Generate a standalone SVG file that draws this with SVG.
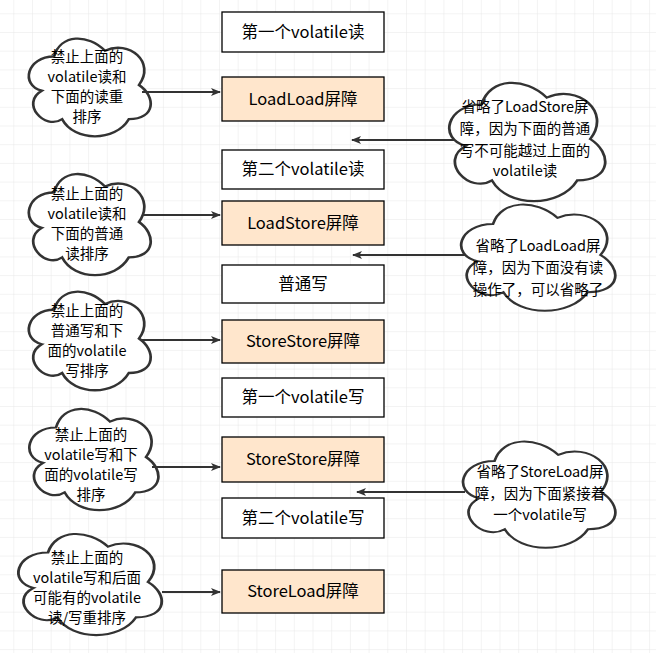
<svg xmlns="http://www.w3.org/2000/svg" width="656" height="653" viewBox="0 0 656 653">
<defs>
<pattern id="g" x="13.3" y="13.3" width="18.7" height="18.7" patternUnits="userSpaceOnUse"><path d="M0 0H18.7M0 0V18.7" fill="none" stroke="#e8e8e8" stroke-width="1"/></pattern>
<path id="cl" d="M 0.25 0.25 C 0.05 0.25 0 0.5 0.16 0.55 C 0 0.66 0.18 0.9 0.31 0.8 C 0.4 1 0.7 1 0.8 0.8 C 1 0.8 1 0.6 0.875 0.5 C 1 0.3 0.8 0.1 0.625 0.2 C 0.5 0.05 0.3 0.05 0.25 0.25 Z"/>
<marker id="a" markerWidth="10" markerHeight="8" refX="9" refY="4" orient="auto" markerUnits="userSpaceOnUse"><path d="M0 0L10 4L0 8L2.5 4Z" fill="#333"/></marker>
</defs>
<style>
text{font-family:"Microsoft YaHei","Noto Sans CJK SC",sans-serif;font-size:14.5px;fill:#000;text-anchor:middle}
.b{font-size:16.5px}
.r{fill:#fff;stroke:#000;stroke-width:1.3}
.o{fill:#ffe6cc;stroke:#000;stroke-width:1.3}
.e{stroke:#333;stroke-width:2;fill:none;marker-end:url(#a)}
</style>
<rect width="656" height="653" fill="#fff"/>
<rect width="656" height="653" fill="url(#g)"/>
<g id="n1"><rect class="r" x="222" y="12" width="162" height="40"/><text class="b" x="303" y="38">第一个volatile读</text></g>
<g id="n2"><rect class="o" x="222" y="77" width="162" height="44"/><text class="b" x="303" y="105">LoadLoad屏障</text></g>
<g id="n3"><rect class="r" x="222" y="150" width="162" height="39"/><text class="b" x="303" y="175">第二个volatile读</text></g>
<g id="n4"><rect class="o" x="222" y="201" width="162" height="44"/><text class="b" x="303" y="229">LoadStore屏障</text></g>
<g id="n5"><rect class="r" x="222" y="265" width="162" height="38"/><text class="b" x="303" y="290">普通写</text></g>
<g id="n6"><rect class="o" x="222" y="320" width="162" height="43"/><text class="b" x="303" y="347">StoreStore屏障</text></g>
<g id="n7"><rect class="r" x="222" y="378" width="162" height="39"/><text class="b" x="303" y="403">第一个volatile写</text></g>
<g id="n8"><rect class="o" x="222" y="437" width="162" height="45"/><text class="b" x="303" y="465">StoreStore屏障</text></g>
<g id="n9"><rect class="r" x="222" y="498" width="162" height="40"/><text class="b" x="303" y="524">第二个volatile写</text></g>
<g id="n10"><rect class="o" x="222" y="570" width="162" height="43"/><text class="b" x="303" y="597">StoreLoad屏障</text></g>

<g id="c1"><use href="#cl" fill="#fff" stroke="#333" stroke-width="0.02" transform="translate(20,28) scale(136,114)"/><text x="87" y="62">禁止上面的</text><text x="87" y="82">volatile读和</text><text x="87" y="102">下面的读重</text><text x="87" y="122">排序</text></g>
<g id="c2"><use href="#cl" fill="#fff" stroke="#333" stroke-width="0.02" transform="translate(20,163) scale(136,118)"/><text x="87" y="199">禁止上面的</text><text x="87" y="219">volatile读和</text><text x="87" y="239">下面的普通</text><text x="87" y="259">读排序</text></g>
<g id="c3"><use href="#cl" fill="#fff" stroke="#333" stroke-width="0.02" transform="translate(20,281) scale(136,115)"/><text x="87" y="316">禁止上面的</text><text x="87" y="336">普通写和下</text><text x="87" y="356">面的volatile</text><text x="87" y="376">写排序</text></g>
<g id="c4"><use href="#cl" fill="#fff" stroke="#333" stroke-width="0.019" transform="translate(20,398) scale(144,118)"/><text x="91" y="440">禁止上面的</text><text x="91" y="460">volatile写和下</text><text x="91" y="480">面的volatile写</text><text x="91" y="500">排序</text></g>
<g id="c5"><use href="#cl" fill="#fff" stroke="#333" stroke-width="0.018" transform="translate(8,523) scale(160,118)"/><text x="87" y="563">禁止上面的</text><text x="87" y="583">volatile写和后面</text><text x="87" y="603">可能有的volatile</text><text x="87" y="623">读/写重排序</text></g>
<g id="c6"><use href="#cl" fill="#fff" stroke="#333" stroke-width="0.016" transform="translate(438,70) scale(174,138)"/><text x="525" y="112">省略了LoadStore屏</text><text x="525" y="134">障，因为下面的普通</text><text x="525" y="156">写不可能越过上面的</text><text x="525" y="176">volatile读</text></g>
<g id="c7"><use href="#cl" fill="#fff" stroke="#333" stroke-width="0.016" transform="translate(450,193) scale(172,124)"/><text x="538" y="251">省略了LoadLoad屏</text><text x="538" y="273">障，因为下面没有读</text><text x="538" y="295">操作了，可以省略了</text></g>
<g id="c8"><use href="#cl" fill="#fff" stroke="#333" stroke-width="0.016" transform="translate(452,430) scale(170,124)"/><text x="540" y="477">省略了StoreLoad屏</text><text x="540" y="499">障，因为下面紧接着</text><text x="540" y="520">一个volatile写</text></g>

<g id="edges">
<path class="e" d="M142 92H220"/>
<path class="e" d="M142 215H220"/>
<path class="e" d="M142 340H220"/>
<path class="e" d="M152 467H220"/>
<path class="e" d="M162 592H220"/>
<path class="e" d="M455 140H352"/>
<path class="e" d="M465 255H353"/>
<path class="e" d="M465 492H357"/>
</g>
</svg>
